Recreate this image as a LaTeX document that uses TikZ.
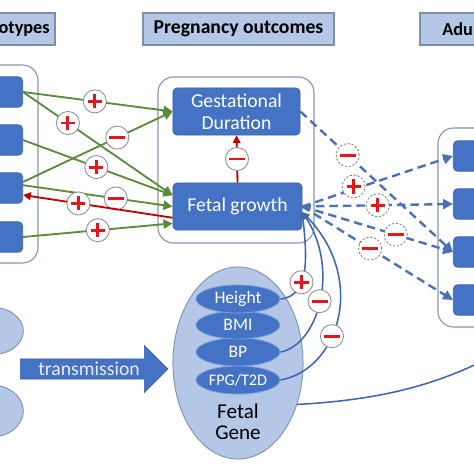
\documentclass[tikz,border=0pt]{standalone}
\usepackage{fontspec}
\setmainfont{Carlito}
\usepackage{tikz}
\usetikzlibrary{arrows.meta, shapes.geometric, shapes.arrows}
\definecolor{boxblue}{HTML}{4472C4}
\definecolor{paleblue}{HTML}{B4C7E7}
\definecolor{grpline}{HTML}{8497B0}
\definecolor{hdrline}{HTML}{7F8FA9}
\definecolor{posgreen}{HTML}{5A8A3A}
\definecolor{negred}{HTML}{C00000}
\definecolor{sgnred}{HTML}{E3161B}
\definecolor{dashblue}{HTML}{4A70B5}
\definecolor{curveblue}{HTML}{3F66B0}
\tikzset{
  hdr/.style  ={draw=hdrline, fill=paleblue, line width=0.8pt},
  hdrtxt/.style={inner sep=0pt, font=\fontsize{14}{16}\selectfont\bfseries},
  grp/.style  ={draw=grpline, line width=0.8pt, rounded corners=11pt},
  bbox/.style ={draw=boxblue!85!black, fill=boxblue, rounded corners=3pt,
                text=white, align=center, inner sep=0pt, line width=0.5pt,
                font=\fontsize{14}{15.5}\selectfont},
  side/.style ={bbox, minimum width=38pt, minimum height=21.6pt},
  gene/.style ={ellipse, draw=grpline, fill=paleblue, line width=0.7pt,
                minimum width=92.5pt, minimum height=136.6pt, inner sep=0pt},
  trait/.style={ellipse, draw=paleblue!55!boxblue, fill=boxblue, text=white,
                minimum width=59.8pt, minimum height=20pt, inner sep=0pt,
                line width=0.6pt, font=\fontsize{12.5}{13}\selectfont},
  mom/.style  ={ellipse, draw=grpline, fill=paleblue, line width=0.7pt,
                minimum width=46pt, inner sep=0pt},
  trans/.style={single arrow, fill=boxblue, draw=boxblue!85!black,
                minimum width=33.5pt, minimum height=105pt,
                single arrow head extend=8.2pt, inner sep=1pt,
                text=white!92!black, font=\fontsize{14}{15}\selectfont},
  sgn/.style  ={circle, draw=black!45, fill=white, line width=0.6pt,
                minimum size=16.4pt, inner sep=0pt, solid},
  pls/.style  ={sgn, path picture={
                  \draw[-, sgnred, solid, line width=2.1pt]
                    ([xshift=-5pt]path picture bounding box.center) --
                    ([xshift=5pt]path picture bounding box.center);
                  \draw[-, sgnred, solid, line width=2.1pt]
                    ([yshift=-5pt]path picture bounding box.center) --
                    ([yshift=5pt]path picture bounding box.center);}},
  mns/.style  ={sgn, path picture={
                  \draw[-, sgnred, solid, line width=2.1pt]
                    ([xshift=-5.7pt]path picture bounding box.center) --
                    ([xshift=5.7pt]path picture bounding box.center);}},
  plsd/.style ={pls, draw=black!50, dash pattern=on 1.6pt off 1.2pt},
  mnsd/.style ={mns, draw=black!50, dash pattern=on 1.6pt off 1.2pt},
  grn/.style  ={-{Triangle[length=6.5pt, width=6.5pt]}, line width=1.3pt,
                posgreen},
  redarr/.style={-{Triangle[length=5.5pt, width=5.5pt]}, line width=1.3pt,
                negred},
  dsh/.style  ={-{Triangle[length=7pt, width=7pt]}, line width=1.7pt,
                dashblue, dash pattern=on 6pt off 3.6pt},
  cur/.style  ={-{Triangle[length=5pt, width=5pt]}, line width=1.1pt,
                curveblue},
}

\begin{document}
\begin{tikzpicture}[x=0.025cm, y=-0.025cm]
  \useasboundingbox (0,0) rectangle (474,474);
  \clip (0,0) rectangle (474,474);

  % headers
  \draw[hdr] (-20,13) rectangle (55,45);
  \node[hdrtxt, anchor=east, font=\fontsize{13}{15}\selectfont\bfseries]
    (hmat) at (50,29) {otypes};
  \draw[hdr] (143,13) rectangle (334,45);
  \node[hdrtxt] (hpreg) at (238.5,29) {Pregnancy outcomes};
  \draw[hdr] (420,13) rectangle (500,45);
  \node[hdrtxt, anchor=west, font=\fontsize{13}{15}\selectfont\bfseries]
    (hadu) at (442,29) {Adu};

  % groups
  \draw[grp] (-40,65) rectangle (38,263);
  \draw[grp] (158,77) rectangle (314,243);
  \draw[grp] (438,128) rectangle (530,327);

  \node[side] (l1) at (-4,92)  {};
  \node[side] (l2) at (-4,140) {};
  \node[side] (l3) at (-4,188) {};
  \node[side] (l4) at (-4,237) {};

  \node[bbox, minimum width=90.4pt, minimum height=33.5pt]
    (gd) at (236.5,111.5) {Gestational\\Duration};
  \node[bbox, minimum width=91.8pt, minimum height=33.5pt]
    (fg) at (237.5,206.5) {Fetal growth};

  \node[side] (r1) at (480,156) {};
  \node[side] (r2) at (480,204) {};
  \node[side] (r3) at (480,252) {};
  \node[side] (r4) at (480,300) {};

  % maternal -> pregnancy outcomes
  \draw[grn] (l1.east) -- node[pls, pos=.48] (s1) {} (gd.west);
  \draw[grn] (l1.east) -- node[pls, pos=.30] (s2) {}
    ([yshift=8pt]fg.west);
  \draw[grn] ([yshift=4.3pt]l3.east) -- node[mns, pos=.63] (s3) {}
    (gd.west);
  \draw[grn] (l2.east) -- node[pls, pos=.49] (s4) {}
    ([yshift=8pt]fg.west);
  \draw[grn] ([yshift=2pt]l3.east) -- node[mns, pos=.62] (s5) {}
    (fg.west);
  \draw[redarr] ([yshift=-8pt]fg.west) -- node[pls, pos=.63] (s6) {}
    ([yshift=-5pt]l3.east);
  \draw[grn] (l4.east) -- node[pls, pos=.50] (s7) {}
    ([yshift=-12pt]fg.west);
  \draw[redarr] (fg.north) -- node[mns, pos=.5] (s8) {} (gd.south);

  % pregnancy outcomes -> adult outcomes
  \draw[dsh] (gd.east) -- node[mnsd, pos=.31] (d1) {} (r3.west);
  \draw[dsh] (fg.east) -- node[plsd, pos=.34, yshift=2pt] (d2) {} (r1.west);
  \draw[dsh] (fg.east) -- node[plsd, pos=.50] (d3) {} (r2.west);
  \draw[dsh] (fg.east) -- node[mnsd, pos=.62] (d4) {} (r3.west);
  \draw[dsh] (fg.east) -- node[mnsd, pos=.45] (d5) {} (r4.west);

  % fetal gene
  \node[gene] (gene) at (238,363) {};
  \node[trait, font=\fontsize{11.5}{13}\selectfont] (fpg) at (238,380) {FPG/T2D};
  \node[trait] (bp)  at (238,352) {BP};
  \node[trait] (bmi) at (238,325) {BMI};
  \node[trait] (ht)  at (238,299) {Height};
  \node[align=center, font=\fontsize{15}{15}\selectfont]
    (fgn) at (238,422) {Fetal\\Gene};

  \coordinate (fgt) at ([yshift=-4pt]fg.east);
  \draw[cur] (ht.east) .. controls (312,296) and (306,250) ..
    node[pls, pos=.35] (c1) {} (fgt);
  \draw[cur] (bp.east) .. controls (318,345) and (340,270) ..
    node[mns, pos=.5] (c2) {} (fgt);
  \draw[cur] (fpg.east) .. controls (338,370) and (368,280) ..
    node[mns, pos=.4] (c3) {} (fgt);
  \coordinate (adlt) at (500,352);
  \draw[curveblue, line width=1.1pt] (gene.-35)
    .. controls (380,400) and (440,385) .. (adlt);

  % mothers and transmission
  \node[mom, minimum height=34pt] (m1) at (-9,331) {};
  \node[mom, minimum height=37pt] (m2) at (-9,411) {};
  \node[trans, anchor=tail] (tr) at (20,369) {transmission};
\end{tikzpicture}
\end{document}
